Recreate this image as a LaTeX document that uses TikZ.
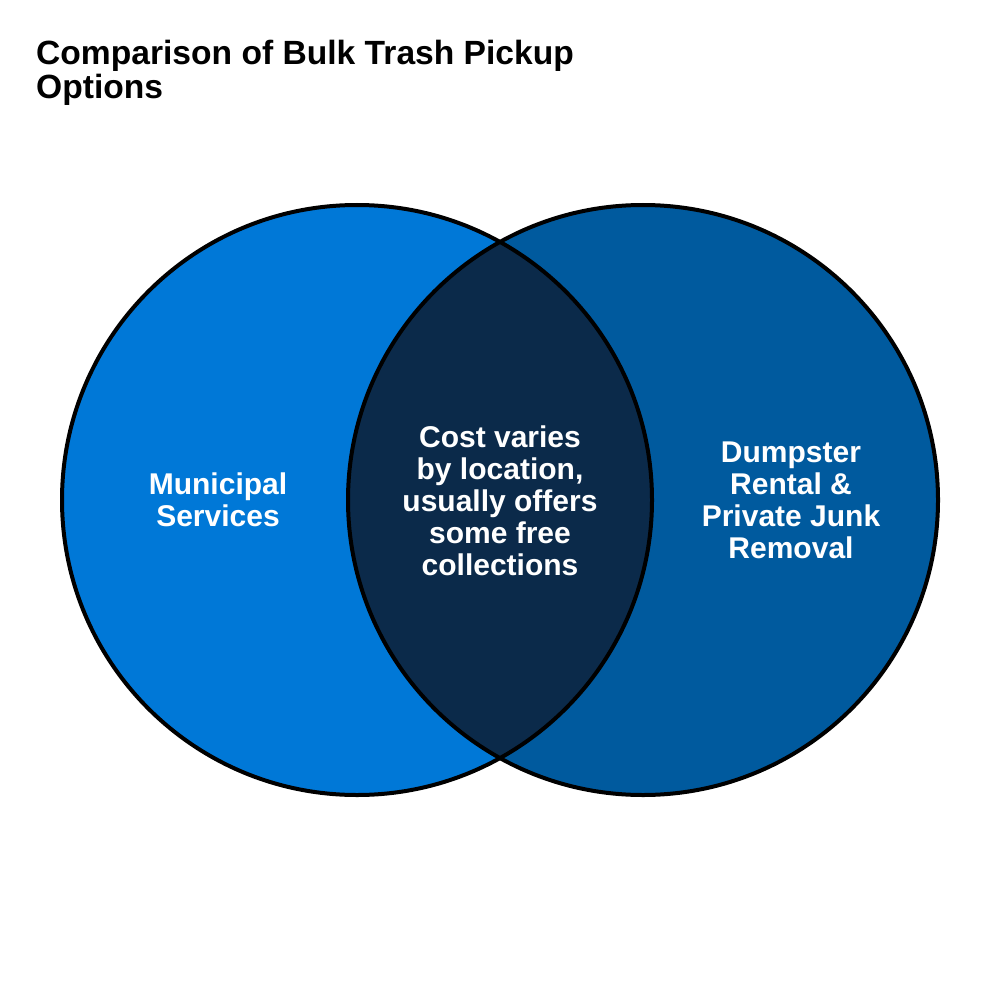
\documentclass[tikz,border=0pt]{standalone}
\usepackage{fontspec}
\setmainfont{Liberation Sans}
\usepackage{tikz}
\usetikzlibrary{positioning}
\definecolor{municipalblue}{RGB}{0,120,215}
\definecolor{privateblue}{RGB}{0,90,158}
\definecolor{overlapblue}{RGB}{11,42,74}
\tikzset{
  venn set/.style={circle,draw=none,minimum size=590pt,inner sep=0pt},
  venn outline/.style={draw=black,line width=4pt},
  venn label/.style={text=white,font=\fontsize{30}{32}\selectfont\bfseries,
    align=center,inner sep=0pt},
  title label/.style={font=\fontsize{33.6}{34}\selectfont\bfseries,
    align=left,inner sep=0pt,anchor=north west}
}
\begin{document}
\begin{tikzpicture}[x=1pt,y=-1pt]
  \useasboundingbox (0,0) rectangle (1000,1000);
  \node[title label] (title) at (36,40)
    {Comparison of Bulk Trash Pickup\\Options};
  % the two sets
  \node[venn set,fill=municipalblue] (municipal) at (357,500) {};
  \node[venn set,fill=privateblue] (private) at (643,500) {};
  \begin{scope}
    \clip (municipal.center) circle (295pt);
    \fill[overlapblue] (private.center) circle (295pt);
  \end{scope}
  \draw[venn outline] (municipal.center) circle (295pt)
    (private.center) circle (295pt);
  % labels
  \node[venn label] (municipal text) at (218,500)
    {Municipal\\Services};
  \node[venn label] (overlap text) at (500,501)
    {Cost varies\\by location,\\usually offers\\some free\\collections};
  \node[venn label] (private text) at (791,500)
    {Dumpster\\Rental \&\\Private Junk\\Removal};
\end{tikzpicture}
\end{document}
